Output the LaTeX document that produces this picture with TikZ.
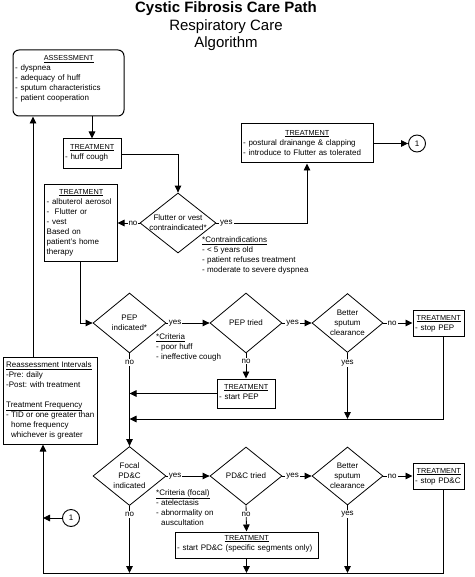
\documentclass[tikz,border=0pt]{standalone}
\usepackage{fontspec}
\setmainfont{Liberation Sans}
\usetikzlibrary{shapes.geometric,arrows.meta}
\newcommand{\hd}[1]{\makebox[\hsize][c]{\fontsize{7.3}{10}\selectfont\underline{#1}}}
\begin{document}
\begin{tikzpicture}[x=1pt,y=-1pt,
  every node/.style={font=\fontsize{8}{10}\selectfont},
  box/.style={draw, line width=1pt, inner sep=0pt},
  dia/.style={draw, diamond, line width=0.8pt, inner sep=0pt},
  txt/.style={inner sep=0pt, anchor=north west, align=left},
  ctxt/.style={inner sep=0pt, align=center},
  lbl/.style={fill=white, inner sep=1pt},
  arr/.style={-{Triangle[length=7pt,width=6.5pt]}, line width=0.9pt},
  circ/.style={draw, circle, line width=0.9pt, minimum size=17pt, inner sep=0pt},
  ttl/.style={font=\fontsize{15}{17}\selectfont, inner sep=0pt}]
\useasboundingbox (0,0) rectangle (474,577);
% title
\node[ttl, font=\fontsize{15}{17}\selectfont\bfseries] (t1) at (226,8.5) {Cystic Fibrosis Care Path};
\node[ttl] (t2) at (226,27) {Respiratory Care};
\node[ttl] (t3) at (226,43.5) {Algorithm};
% assessment
\node[box, rounded corners=6pt, minimum width=111pt, minimum height=66pt] (assess) at (68.5,83) {};
\node[txt, text width=107pt] (assesst) at (15,55) {\hd{ASSESSMENT}\\- dyspnea\\- adequacy of huff\\- sputum characteristics\\- patient cooperation};
% huff cough
\node[box, minimum width=58pt, minimum height=30pt] (huff) at (92,154) {};
\node[txt, text width=54pt] (hufft) at (65,144) {\hd{TREATMENT}\\- huff cough};
% flutter decision
\node[dia, minimum width=76pt, minimum height=60pt] (d1) at (178,223) {};
\node[ctxt] (d1t) at (d1) {Flutter or vest\\contraindicated*};
% albuterol
\node[box, minimum width=73pt, minimum height=77pt] (alb) at (80.5,223) {};
\node[txt, text width=69pt] (albt) at (46.5,189) {\hd{TREATMENT}\\- albuterol aerosol\\-\ \ Flutter or\\- vest\\Based on\\patient's home\\therapy};
% postural
\node[box, minimum width=132pt, minimum height=39pt] (post) at (307,143.5) {};
\node[txt, text width=128pt] (postt) at (243,130) {\hd{TREATMENT}\\- postural drainange \& clapping\\- introduce to Flutter as tolerated};
\node[circ] (c1) at (417,143.5) {1};
% contraindications
\node[txt] (contra) at (202,236.5) {\underline{*Contraindications}\\- < 5 years old\\- patient refuses treatment\\- moderate to severe dyspnea};
% PEP row
\node[dia, minimum width=73pt, minimum height=60pt] (pep) at (129.5,323) {};
\node[ctxt] (pept) at (pep) {PEP\\indicated*};
\node[dia, minimum width=72pt, minimum height=60pt] (pt1) at (246,323) {};
\node[ctxt] (pt1t) at (pt1) {PEP tried};
\node[dia, minimum width=71pt, minimum height=59pt] (bs1) at (347.5,323) {};
\node[ctxt] (bs1t) at (bs1) {Better\\sputum\\clearance};
\node[box, minimum width=51pt, minimum height=26pt] (stopPEP) at (438.5,323) {};
\node[txt, text width=47pt] (stopPEPt) at (415,315) {\hd{TREATMENT}\\- stop PEP};
\node[txt] (crit) at (156,333.5) {\underline{*Criteria}\\- poor huff\\- ineffective cough};
\node[box, minimum width=58pt, minimum height=29pt] (startPEP) at (246,393.5) {};
\node[txt, text width=54pt] (startPEPt) at (219,384) {\hd{TREATMENT}\\- start PEP};
% reassessment
\node[box, minimum width=94pt, minimum height=87pt] (reassess) at (50,400.5) {};
\node[txt] (reassesst) at (6,361.5) {\underline{Reassessment Intervals}\\-Pre: daily\\-Post: with treatment\\[10pt]\underline{Treatment Frequency}\\- TID or one greater than\\\hspace*{5pt}home frequency\\\hspace*{5pt}whichever is greater};
% PD&C row
\node[dia, minimum width=73pt, minimum height=59pt] (focal) at (129.5,476) {};
\node[ctxt] (focalt) at (focal) {Focal\\PD\&C\\indicated};
\node[dia, minimum width=72pt, minimum height=58pt] (pd2) at (246,476) {};
\node[ctxt] (pd2t) at (pd2) {PD\&C tried};
\node[dia, minimum width=71pt, minimum height=58pt] (bs2) at (347.5,476) {};
\node[ctxt] (bs2t) at (bs2) {Better\\sputum\\clearance};
\node[box, minimum width=51pt, minimum height=26pt] (stopPDC) at (438.5,476) {};
\node[txt, text width=47pt] (stopPDCt) at (415,468) {\hd{TREATMENT}\\- stop PD\&C};
\node[txt] (critf) at (156,489.5) {\underline{*Criteria (focal)}\\- atelectasis\\- abnormality on\\\hspace*{5pt}auscultation};
\node[box, minimum width=143pt, minimum height=26pt] (startPDC) at (246.5,545) {};
\node[txt, text width=139pt] (startPDCt) at (177,535) {\hd{TREATMENT}\\- start PD\&C (specific segments only)};
\node[circ] (c2) at (71,518) {1};
% helper coordinates
\coordinate (lv) at (33,357);
\coordinate (b1) at (43,573);
\coordinate (b2) at (443,573);
\coordinate (r1) at (443,419);
% connectors
\draw[arr] (huff.north |- assess.south) -- (huff.north);
\draw[arr] (huff.east) -| (d1.north);
\draw[arr] (d1.west) -- node[lbl,pos=0.3]{no} (alb.east);
\draw[arr] (d1.east) -| node[lbl,pos=0.055]{yes} (post.south);
\draw[arr] (post.east) -- (c1.west);
\draw[arr] (alb.south) |- (pep.west);
\draw[arr] (pep.east) -- node[lbl,pos=0.2]{yes} (pt1.west);
\draw[arr] (pt1.east) -- node[lbl,pos=0.35]{yes} (bs1.west);
\draw[arr] (bs1.east) -- node[lbl,pos=0.3]{no} (stopPEP.west);
\draw[arr] (pt1.south) -- node[lbl,pos=0.3]{no} (startPEP.north);
\draw[arr] (pep.south) -- node[lbl,pos=0.1]{no} (focal.north);
\draw[arr] (startPEP.west) -- (startPEP.west -| pep.south);
\draw[arr] (bs1.south) -- node[lbl,pos=0.15]{yes} (bs1.south |- r1);
\draw[arr] (r1 |- stopPEP.south) -- (r1) -- (r1 -| pep.south);
\draw[arr] (lv) -- (lv |- assess.south);
\draw[arr] (focal.east) -- node[lbl,pos=0.2]{yes} (pd2.west);
\draw[arr] (pd2.east) -- node[lbl,pos=0.35]{yes} (bs2.west);
\draw[arr] (bs2.east) -- node[lbl,pos=0.3]{no} (stopPDC.west);
\draw[arr] (pd2.south) -- node[lbl,pos=0.33]{no} (startPDC.north);
\draw[arr] (focal.south) -- node[lbl,pos=0.13]{no} (focal.south |- b1);
\draw[arr] (startPDC.south) -- (startPDC.south |- b1);
\draw[arr] (bs2.south) -- node[lbl,pos=0.13]{yes} (bs2.south |- b1);
\draw[arr] (b2 |- stopPDC.south) -- (b2) -- (b1) -- (b1 |- reassess.south);
\draw[arr] (c2.west) -- (c2.west -| b1);
\end{tikzpicture}
\end{document}
